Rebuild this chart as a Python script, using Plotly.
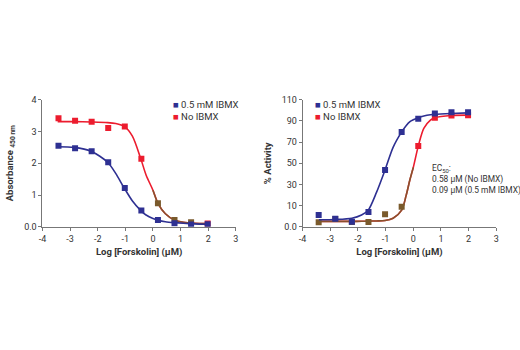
import plotly.graph_objects as go

# ---------------- data ----------------
log_conc = [-3.42, -2.82, -2.22, -1.62, -1.02, -0.42, 0.18, 0.78, 1.38, 1.98]

# Left panel: Absorbance 450 nm
abs_ibmx = [2.55, 2.47, 2.38, 2.03, 1.22, 0.51, 0.21, 0.11, 0.07, 0.08]
abs_no_ibmx = [3.42, 3.34, 3.31, 3.11, 3.16, 2.14, 0.74, 0.21, 0.14, 0.10]

# Right panel: % Activity
act_ibmx = [1.2, -2.5, -5.2, 3.9, 43.7, 79.6, 92.1, 96.9, 98.1, 98.1]
act_no_ibmx = [-5.8, -2.6, -5.5, -5.5, 1.8, 8.8, 66.2, 93.0, 95.1, 95.4]

# Fitted curves
fit_x_abs = [-3.45, -2.86, -2.24, -1.64, -1.35, -1.04, -0.75, -0.44, -0.25, 0.0, 0.18, 0.45, 0.78, 1.1, 1.5, 1.98]
fit_abs_ibmx = [2.52, 2.50, 2.38, 2.03, 1.68, 1.22, 0.82, 0.51, 0.37, 0.26, 0.21, 0.16, 0.13, 0.11, 0.09, 0.08]
fit_abs_no_ibmx = [3.31, 3.31, 3.30, 3.28, 3.25, 3.16, 2.86, 2.14, 1.63, 1.15, 0.74, 0.41, 0.21, 0.14, 0.11, 0.10]

fit_x_act = [-3.41, -2.82, -2.22, -1.87, -1.63, -1.33, -1.02, -0.73, -0.42, -0.26, -0.12, 0.0, 0.18, 0.38, 0.62, 0.78, 1.38, 1.98]
fit_act_ibmx = [-3.4, -3.1, -1.9, 1.2, 5.7, 22.5, 43.7, 65.0, 79.6, 85.5, 89.3, 91.0, 93.0, 94.6, 95.8, 96.2, 97.0, 97.6]
fit_act_no_ibmx = [-4.9, -4.9, -4.9, -4.8, -4.7, -4.5, -4.1, -1.9, 5.7, 19.4, 34.6, 46.0, 66.2, 83.0, 90.8, 93.0, 95.1, 95.4]

ec50_lines = ["0.58 µM (No IBMX)", "0.09 µM (0.5 mM IBMX)"]
series_names = ["0.5 mM IBMX", "No IBMX"]
x_ticks = [-4, -3, -2, -1, 0, 1, 2, 3]
x_tick_text = ["-4", "-3", "-2", "-1", "0", "1", "2", "3"]
abs_ticks = [0, 1, 2, 3, 4]
abs_tick_text = ["0.0", "1", "2", "3", "4"]
act_ticks = [-10, 10, 30, 50, 70, 90, 110]
act_tick_text = ["0.0", "10", "30", "50", "70", "90", "110"]

# ---------------- styling ----------------
BLUE = "#2e3092"
RED = "#ec1c2e"
BROWN = "#7a5a2c"
FONT = "Roboto, Liberation Sans, Arial, sans-serif"
TXT = "#333333"

fig = go.Figure()


def brown_mask(xs, lo, hi):
    return [BROWN if lo <= x <= hi else RED for x in xs]


LINE = dict(width=1.6, shape="spline", smoothing=0.8)

# ---- left panel ----
fig.add_trace(go.Scatter(x=fit_x_abs, y=fit_abs_no_ibmx, mode="lines",
                         line=dict(color=RED, **LINE), xaxis="x", yaxis="y",
                         showlegend=False, hoverinfo="skip"))
seg = [i for i, x in enumerate(fit_x_abs) if x >= 0.0]
fig.add_trace(go.Scatter(x=[fit_x_abs[i] for i in seg], y=[fit_abs_no_ibmx[i] for i in seg],
                         mode="lines", line=dict(color=BROWN, **LINE), xaxis="x", yaxis="y",
                         showlegend=False, hoverinfo="skip", opacity=0.85))
fig.add_trace(go.Scatter(x=log_conc, y=abs_no_ibmx, mode="markers", name=series_names[1],
                         marker=dict(symbol="square", size=6, color=brown_mask(log_conc, 0.0, 1.5)),
                         xaxis="x", yaxis="y", showlegend=False))
fig.add_trace(go.Scatter(x=fit_x_abs, y=fit_abs_ibmx, mode="lines",
                         line=dict(color=BLUE, **LINE), xaxis="x", yaxis="y",
                         showlegend=False, hoverinfo="skip"))
fig.add_trace(go.Scatter(x=log_conc, y=abs_ibmx, mode="markers", name=series_names[0],
                         marker=dict(symbol="square", size=6, color=BLUE),
                         xaxis="x", yaxis="y", showlegend=False))

# ---- right panel ----
fig.add_trace(go.Scatter(x=fit_x_act, y=fit_act_no_ibmx, mode="lines",
                         line=dict(color=RED, **LINE), xaxis="x2", yaxis="y2",
                         showlegend=False, hoverinfo="skip"))
seg2 = [i for i, x in enumerate(fit_x_act) if x <= 0.0]
fig.add_trace(go.Scatter(x=[fit_x_act[i] for i in seg2], y=[fit_act_no_ibmx[i] for i in seg2],
                         mode="lines", line=dict(color=BROWN, **LINE), xaxis="x2", yaxis="y2",
                         showlegend=False, hoverinfo="skip", opacity=0.85))
fig.add_trace(go.Scatter(x=log_conc, y=act_no_ibmx, mode="markers", name=series_names[1],
                         marker=dict(symbol="square", size=6, color=brown_mask(log_conc, -4, -0.3)),
                         xaxis="x2", yaxis="y2", showlegend=False))
fig.add_trace(go.Scatter(x=fit_x_act, y=fit_act_ibmx, mode="lines",
                         line=dict(color=BLUE, **LINE), xaxis="x2", yaxis="y2",
                         showlegend=False, hoverinfo="skip"))
fig.add_trace(go.Scatter(x=log_conc, y=act_ibmx, mode="markers", name=series_names[0],
                         marker=dict(symbol="square", size=6, color=BLUE),
                         xaxis="x2", yaxis="y2", showlegend=False))

ydom = [1 - 228.3 / 350, 1 - 97.5 / 350]
axis_common = dict(showline=True, linecolor="#777777", linewidth=1, ticks="outside",
                   ticklen=3, tickcolor="#777777", showgrid=False, zeroline=False,
                   tickfont=dict(family=FONT, size=9, color=TXT))
title_font = dict(family=FONT, size=9.5, color=TXT)

fig.update_layout(
    width=520, height=350,
    margin=dict(l=0, r=0, t=0, b=0),
    paper_bgcolor="white", plot_bgcolor="white",
    showlegend=False,
    xaxis=dict(domain=[39 / 520, 235 / 520], range=[-4, 3], tickvals=x_ticks, ticktext=x_tick_text,
               title=dict(text="<b>Log [Forskolin] (µM)</b>", font=title_font, standoff=5),
               anchor="y", **axis_common),
    yaxis=dict(domain=ydom, range=[0, 4], tickvals=abs_ticks, ticktext=abs_tick_text,
               title=dict(text="<b>Absorbance <sub>450 nm</sub></b>", font=title_font, standoff=8),
               anchor="x", **axis_common),
    xaxis2=dict(domain=[302.7 / 520, 499 / 520], range=[-4, 3], tickvals=x_ticks, ticktext=x_tick_text,
                title=dict(text="<b>Log [Forskolin] (µM)</b>", font=title_font, standoff=5),
                anchor="y2", **axis_common),
    yaxis2=dict(domain=ydom, range=[-10, 110], tickvals=act_ticks, ticktext=act_tick_text,
                title=dict(text="<b>% Activity</b>", font=title_font, standoff=8),
                anchor="x2", **axis_common),
)

leg_font = dict(family=FONT, size=9.5, color=TXT)
legend_text = (f'<span style="color:{BLUE}">■</span> {series_names[0]}<br>'
               f'<span style="color:{RED}">■</span> {series_names[1]}')
for ax, yref, x0 in (("x domain", "y domain", (170 - 39) / 196),
                     ("x2 domain", "y2 domain", (314 - 302.7) / 196.3)):
    fig.add_annotation(xref=ax, yref=yref, x=x0, y=(228.3 - 109) / 130.8, xanchor="left",
                       yanchor="middle", align="left", showarrow=False, font=leg_font,
                       borderpad=0, text=legend_text)

ec_text = "EC<sub>50</sub>:<br>" + "<br>".join(ec50_lines)
fig.add_annotation(xref="x2 domain", yref="y2 domain", x=(432 - 302.7) / 196.3,
                   y=(228.3 - 161) / 130.8, xanchor="left", yanchor="top", align="left",
                   showarrow=False, font=dict(family=FONT, size=8.4, color=TXT), text=ec_text)

fig.write_html("out.html")
